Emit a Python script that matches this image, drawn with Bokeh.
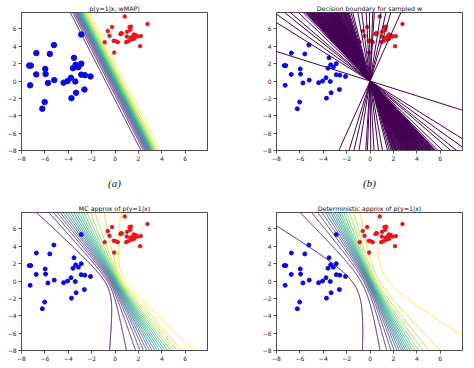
import numpy as np
from bokeh.plotting import figure
from bokeh.layouts import column, row
from bokeh.models import FixedTicker, Range1d
from bokeh.palettes import viridis
from bokeh.embed import file_html
from bokeh.resources import INLINE

# ---------------- data ----------------
blue_x = [-7.34, -7.20, -7.26, -6.73, -6.74, -5.97, -5.94, -5.58, -5.23, -5.74,
          -5.20, -6.02, -6.22, -4.40, -4.06, -3.77, -3.73, -3.60, -3.51, -3.37,
          -3.40, -3.33, -3.14, -2.89, -2.89, -2.89, -2.58, -2.62, -2.10]
blue_y = [1.78, 1.78, -0.49, 3.23, 0.77, 1.40, 0.80, 3.13, 4.15, -0.22,
          0.11, -2.42, -3.19, -0.19, 0.00, 0.38, -1.97, 1.48, 2.68, 1.87,
          -0.05, -1.35, 1.60, 2.00, 0.74, 5.36, 0.68, -0.98, 0.53]
red_x = [0.83, 2.77, -0.25, -0.63, -0.48, 0.46, 0.58, 1.03, 1.23, 1.37,
         1.00, -0.12, 0.05, 0.23, -0.89, 0.95, 1.15, 1.40, 1.63, 1.77,
         1.94, 2.20, 1.49, 1.69, 1.31, -0.08, 2.14, 1.60, 0.52, 1.30]
red_y = [7.44, 6.57, 6.22, 5.76, 5.21, 5.41, 5.49, 5.68, 6.22, 6.26,
         5.13, 4.64, 4.60, 4.48, 4.48, 4.48, 4.60, 4.76, 4.87, 5.29,
         5.13, 5.18, 5.10, 5.07, 4.99, 3.28, 4.02, 5.37, 5.52, 5.90]

# MAP weights and Laplace posterior (estimated from the contours)
w_map = [3.55, 1.35]
post_cov = [[2.67, 0.81], [0.81, 0.60]]

# x where each sampled decision boundary (through the origin) meets y = 8
boundary_x_at_top = [
    -18.8, -9.5, -8.3, -7.4, -6.9, -6.2, -5.8,
    -5.62, -5.55, -5.5, -5.45, -5.38, -5.3, -5.25, -5.2, -5.15, -5.1,
    -5.05, -4.98, -4.95, -4.9, -4.85, -4.8, -4.75, -4.68, -4.62, -4.58,
    -4.55, -4.5, -4.45, -4.42, -4.36, -4.3, -4.25, -4.2, -4.16, -4.12,
    -4.05, -4.0, -3.95, -3.9, -3.86, -3.82, -3.76, -3.72, -3.68, -3.62,
    -3.58, -3.55, -3.5, -3.45, -3.4, -3.38, -3.32, -3.28, -3.24, -3.2,
    -3.14, -3.1, -3.05, -3.0, -2.96, -2.92, -2.86, -2.82, -2.78, -2.72,
    -2.66, -2.62, -2.55, -2.5, -2.42, -2.35, -2.3, -2.25, -2.2, -2.14,
    -2.08, -2.0, -1.95, -1.9, -1.8,
    -1.65, -1.5, -1.06, -0.72, -0.34, -0.06, 0.23, 0.37, 0.95, 1.38, 1.8, 2.67]

contour_levels = [0.05, 0.10, 0.15, 0.20, 0.25, 0.30, 0.35, 0.40, 0.45, 0.50,
                  0.55, 0.60, 0.65, 0.70, 0.75, 0.80, 0.85, 0.90, 0.95]
tick_values = [-8, -6, -4, -2, 0, 2, 4, 6]
tick_labels = ["\u22128", "\u22126", "\u22124", "\u22122", "0", "2", "4", "6"]
titles = ["p(y=1|x, wMAP)", "Decision boundary for sampled w",
          "MC approx of p(y=1|x)", "Deterministic approx of p(y=1|x)"]
captions = ["(a)", "(b)", "", ""]
x_lim = [-8, 7.9]
y_lim = [-8, 7.9]

BLUE = "#0a0ae0"
RED = "#e81818"
DARK = "#440154"
SPINE = "#4d4d4d"

# ---------------- model evaluations on a grid ----------------
gx = np.arange(-8.0, 7.95, 0.05)
gy = np.arange(-8.0, 7.95, 0.05)
X, Y = np.meshgrid(gx, gy)


def sigmoid(a):
    return 1.0 / (1.0 + np.exp(-a))


m = np.array(w_map)
S = np.array(post_cov)

z_map = sigmoid(m[0] * X + m[1] * Y)

# MC: average over the sampled boundaries' weight vectors; each w takes the
# direction normal to its boundary and the length of w_map projected on it
z_mc = np.zeros_like(X)
for xt in boundary_x_at_top:
    u = np.array([8.0, -xt])
    u = u / np.linalg.norm(u)
    r = float(u @ m)
    z_mc += sigmoid(r * (u[0] * X + u[1] * Y))
z_mc /= len(boundary_x_at_top)

# deterministic (probit) approximation
mu = m[0] * X + m[1] * Y
s2 = S[0, 0] * X ** 2 + 2 * S[0, 1] * X * Y + S[1, 1] * Y ** 2
kappa = 1.0 / np.sqrt(1.0 + np.pi * s2 / 8.0)
z_det = sigmoid(kappa * mu)

line_colors = list(viridis(len(contour_levels)))


def make_fig(i, top, left):
    width = 237
    height = 200 if top else 168
    p = figure(width=width, height=height,
               x_range=Range1d(*x_lim), y_range=Range1d(*y_lim),
               output_backend="svg", toolbar_location=None,
               min_border_left=21 if left else 39,
               min_border_right=30 if left else 12,
               min_border_top=12,
               min_border_bottom=50 if top else 18,
               title=titles[i])
    p.title.text_font = "DejaVu Sans"
    p.title.text_font_size = "6.3px"
    p.title.text_font_style = "normal"
    p.title.align = "center"
    p.title.standoff = 1
    p.title.text_color = "#111111"
    for ax in (p.xaxis[0], p.yaxis[0]):
        ax.ticker = FixedTicker(ticks=tick_values)
        ax.major_label_overrides = dict(zip(tick_values, tick_labels))
        ax.major_label_text_font = "DejaVu Sans"
        ax.major_label_text_font_size = "6px"
        ax.major_label_text_color = "#222222"
        ax.major_tick_in = 0
        ax.major_tick_out = 3
        ax.major_label_standoff = 2
        ax.minor_tick_line_color = None
        ax.axis_line_color = SPINE
        ax.major_tick_line_color = SPINE
    if captions[i]:
        p.xaxis[0].axis_label = captions[i]
        p.xaxis[0].axis_label_text_font = "Liberation Serif"
        p.xaxis[0].axis_label_text_font_style = "italic"
        p.xaxis[0].axis_label_text_font_size = "11px"
        p.xaxis[0].axis_label_standoff = 13
        p.xaxis[0].axis_label_text_color = "#111111"
    p.grid.visible = False
    p.outline_line_color = SPINE
    p.outline_line_width = 1
    return p


f1 = make_fig(0, True, True)
f1.contour(gx, gy, z_map, contour_levels, line_color=line_colors, line_width=1)
f1.scatter(blue_x, blue_y, size=5.5, color=BLUE)
f1.scatter(red_x, red_y, size=3.5, color=RED)

f2 = make_fig(1, True, False)
f2.scatter(blue_x, blue_y, size=4, color=BLUE)
f2.scatter(red_x, red_y, size=3.5, color=RED)
xs = [[2 * xt, -2 * xt] for xt in boundary_x_at_top]
ys = [[16, -16] for _ in boundary_x_at_top]
f2.multi_line(xs, ys, line_color=DARK, line_width=1.0)

f3 = make_fig(2, False, True)
f3.contour(gx, gy, z_mc, contour_levels, line_color=line_colors, line_width=1)
f3.scatter(blue_x, blue_y, size=4, color=BLUE)
f3.scatter(red_x, red_y, size=3.5, color=RED)

f4 = make_fig(3, False, False)
f4.contour(gx, gy, z_det, contour_levels, line_color=line_colors, line_width=1)
f4.scatter(blue_x, blue_y, size=4, color=BLUE)
f4.scatter(red_x, red_y, size=3.5, color=RED)

layout = column(row(f1, f2), row(f3, f4))
open("out.html", "w").write(file_html(layout, INLINE))
